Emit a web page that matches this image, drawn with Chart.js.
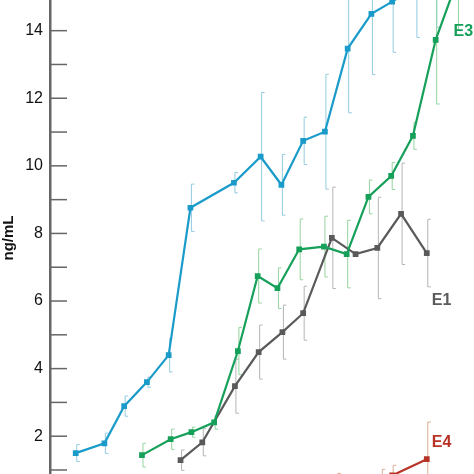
<!DOCTYPE html>
<html><head><meta charset="utf-8">
<script src="https://cdn.jsdelivr.net/npm/chart.js@4"></script>
<style>html,body{margin:0;padding:0;background:#fff;overflow:hidden}#w{width:474px;height:508px;position:relative;top:-16px}</style>
</head><body><div id="w"><canvas id="c"></canvas></div>
<script>
const yTickLabels = [2,4,6,8,10,12,14];
const blueX = [76,105,125,148,170,192,236,263,284,306,328,351,375,396,420,440];
const blueY = [1.50,1.79,2.89,3.60,4.40,8.76,9.50,10.27,9.44,10.74,11.01,13.47,14.50,14.86,15.3,15.6];
const blueE = [0.25,0.3,0.3,0.15,0.5,0.7,0.3,1.9,0.9,0.7,1.7,1.9,1.8,1.5,1.5,1.5];
const greenX = [143,172,193,216,240,260,280,302,327,350,372,395,417,440,462];
const greenY = [1.44,1.91,2.12,2.41,4.52,6.74,6.38,7.53,7.61,7.39,9.08,9.70,10.89,13.73,15.5];
const greenE = [0.35,0.3,0.15,0.2,0.7,0.8,0.6,0.9,0.9,1.0,0.5,0.4,0.4,1.9,1.5];
const grayX = [182,204,237,261,285,306,335,359,381,405,431];
const grayY = [1.29,1.82,3.48,4.49,5.08,5.64,7.87,7.39,7.57,8.58,7.42];
const grayE = [0.3,0.4,0.8,0.8,0.8,0.8,1.5,0.0,1.5,1.5,1.0];
const redX = [340,385,396,431];
const redY = [0.60,0.72,0.84,1.32];
const redE = [0.3,0.3,0.3,1.1];
const seriesLabels = [
  {text:'E3', x:458, y:13.98, color:'#16a05a'},
  {text:'E1', x:436, y:6.00, color:'#5a5a5a'},
  {text:'E4', x:436, y:1.80, color:'#b83226'}
];
function pts(xs, ys){return xs.map((x,i)=>({x:x,y:ys[i]}));}
function ds(xs, ys, es, col, ecol){
  return {data:pts(xs,ys), errs:es, ecol:ecol, borderColor:col, backgroundColor:col,
    borderWidth:2.2, pointStyle:'rect', pointRadius:2.5, pointHoverRadius:2.5, tension:0, clip:false};
}
const errPlugin = {
  id:'err',
  beforeDatasetsDraw(chart){
    const ctx=chart.ctx, ys=chart.scales.y, xs=chart.scales.x, a=chart.chartArea;
    ctx.save();
    ctx.beginPath(); ctx.rect(a.left, 0, a.right-a.left+20, 600); ctx.clip();
    chart.data.datasets.forEach(d=>{
      ctx.strokeStyle=d.ecol; ctx.lineWidth=1;
      d.data.forEach((p,i)=>{
        const e=d.errs[i]; if(!e) return;
        const px=xs.getPixelForValue(p.x)+1, t=ys.getPixelForValue(p.y+e), b=ys.getPixelForValue(p.y-e);
        ctx.beginPath(); ctx.moveTo(px+3,t); ctx.lineTo(px,t); ctx.lineTo(px,b); ctx.lineTo(px+3,b); ctx.stroke();
      });
    });
    ctx.restore();
  },
  afterDraw(chart){
    const ctx=chart.ctx, ys=chart.scales.y, xs=chart.scales.x, a=chart.chartArea;
    ctx.save();
    ctx.strokeStyle='#666'; ctx.lineWidth=1.5;
    for(let v=1; v<=14; v++){
      const py=ys.getPixelForValue(v);
      ctx.beginPath(); ctx.moveTo(a.left,py); ctx.lineTo(a.left+17,py); ctx.stroke();
    }
    ctx.font='bold 16px "Liberation Sans", Arial, sans-serif';
    ctx.textBaseline='middle';
    seriesLabels.forEach(l=>{ctx.fillStyle=l.color; ctx.fillText(l.text, xs.getPixelForValue(l.x), ys.getPixelForValue(l.y));});
    ctx.restore();
  }
};
new Chart(document.getElementById('c'),{
  type:'line',
  data:{datasets:[
    ds(blueX,blueY,blueE,'#1a9bc9','#93cbe0'),
    ds(greenX,greenY,greenE,'#16a05a','#95d49e'),
    ds(grayX,grayY,grayE,'#5a5a5a','#b5b5b5'),
    ds(redX,redY,redE,'#b83226','#dcae94')
  ]},
  options:{
    responsive:true, maintainAspectRatio:false, animation:false,
    layout:{padding:0},
    plugins:{legend:{display:false}, tooltip:{enabled:false}},
    scales:{
      x:{type:'linear', min:50, max:474, display:false},
      y:{min:0.84, max:14.89,
        afterFit(s){s.width=50;},
        grid:{display:false, drawTicks:false},
        border:{display:true, color:'#666', width:2.5},
        ticks:{stepSize:1, padding:7, color:'#111', font:{size:16, family:'"Liberation Sans", Arial, sans-serif'},
          callback:v=>yTickLabels.includes(v)?String(v):''},
        title:{display:true, text:'ng/mL', color:'#111', padding:{top:0,bottom:0}, font:{size:15, weight:'bold', family:'"Liberation Sans", Arial, sans-serif'}}
      }
    }
  },
  plugins:[errPlugin]
});
</script></body></html>
